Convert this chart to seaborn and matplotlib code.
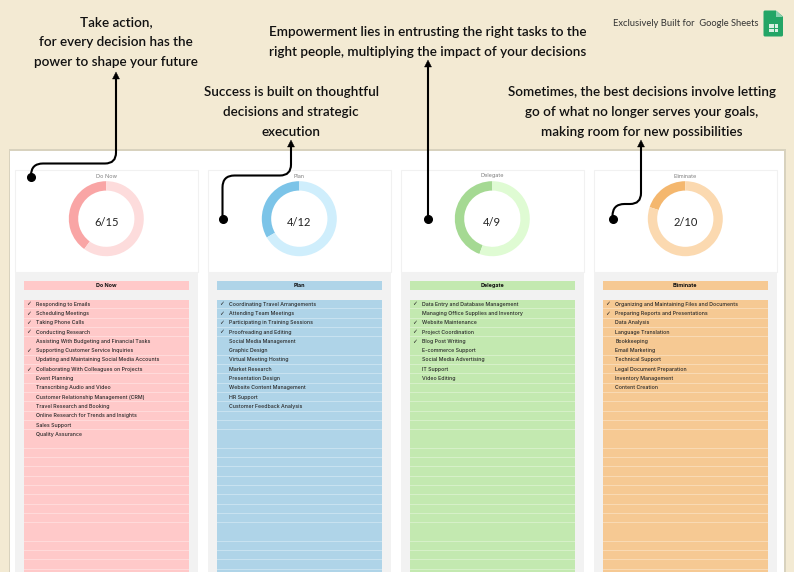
import matplotlib
matplotlib.use("Agg")
import matplotlib.pyplot as plt
from matplotlib.patches import Rectangle, FancyBboxPatch, Polygon, PathPatch
from matplotlib.path import Path
import seaborn as sns
import pandas as pd

sns.set_theme(style="white")
plt.rcParams['font.family'] = ['Inter', 'DejaVu Sans']

W, H = 794, 572
panel_names = ["Do Now", "Plan", "Delegate", "Eliminate"]
do_now = ["Responding to Emails", "Scheduling Meetings", "Taking Phone Calls", "Conducting Research",
          "Assisting With Budgeting and Financial Tasks", "Supporting Customer Service Inquiries",
          "Updating and Maintaining Social Media Accounts", "Collaborating With Colleagues on Projects",
          "Event Planning", "Transcribing Audio and Video", "Customer Relationship Management (CRM)",
          "Travel Research and Booking", "Online Research for Trends and Insights", "Sales Support",
          "Quality Assurance"]
plan = ["Coordinating Travel Arrangements", "Attending Team Meetings", "Participating in Training Sessions",
        "Proofreading and Editing", "Social Media Management", "Graphic Design", "Virtual Meeting Hosting",
        "Market Research", "Presentation Design", "Website Content Management", "HR Support",
        "Customer Feedback Analysis"]
delegate = ["Data Entry and Database Management", "Managing Office Supplies and Inventory", "Website Maintenance",
            "Project Coordination", "Blog Post Writing", "E-commerce Support", "Social Media Advertising",
            "IT Support", "Video Editing"]
eliminate = ["Organizing and Maintaining Files and Documents", "Preparing Reports and Presentations",
             "Data Analysis", "Language Translation", "Bookkeeping", "Email Marketing", "Technical Support",
             "Legal Document Preparation", "Inventory Management", "Content Creation"]
task_lists = [do_now, plan, delegate, eliminate]
done_do_now = [0, 1, 2, 3, 5, 7]
done_plan = [0, 1, 2, 3]
done_delegate = [0, 2, 3, 4]
done_eliminate = [0, 1]
done_lists = [done_do_now, done_plan, done_delegate, done_eliminate]
totals = [15, 12, 9, 10]
completed = [6, 4, 4, 2]
row_colors = ["#FFC9C9", "#AFD4E8", "#C3E9B0", "#F6C993"]
gap_colors = ["#FFDADA", "#C8E2F0", "#D6F0C8", "#F9DAB4"]
ring_dark = ["#F9A5A5", "#7CC4E8", "#A5D993", "#F4B76E"]
ring_light = ["#FDDCDC", "#CFEEFC", "#DFFBD3", "#FBD9B0"]
quotes = [("Take action,\nfor every decision has the\npower to shape your future", 116, 42),
          ("Success is built on thoughtful\ndecisions and strategic\nexecution", 291, 112),
          ("Empowerment lies in entrusting the right tasks to the\nright people, multiplying the impact of your decisions", 428, 42),
          ("Sometimes, the best decisions involve letting\ngo of what no longer serves your goals,\nmaking room for new possibilities", 642, 112)]

fig = plt.figure(figsize=(W / 100, H / 100), dpi=100, facecolor="#F3EAD3")
bg = fig.add_axes([0, 0, 1, 1], zorder=0)
bg.set_xlim(0, W)
bg.set_ylim(H, 0)
bg.axis("off")

bg.add_patch(Rectangle((9, 149), 776.5, 430, fc="#D8D2BE", ec="none"))
bg.add_patch(Rectangle((10, 150.5), 774, 430, fc="white", ec="none"))

col_x = [15, 208, 401, 594]
col_w = 183
for i, x in enumerate(col_x):
    bg.add_patch(Rectangle((x, 169.5), col_w, 102.5, fc="white", ec="#F1F1F1", lw=0.8))
    bg.add_patch(Rectangle((x, 272), col_w, 310, fc="#F2F2F2", ec="none"))
    bg.add_patch(Rectangle((x + 9, 281), 164.5, 9.3, fc=row_colors[i], ec="none"))
    bg.text(x + 91.3, 285.8, panel_names[i], fontsize=3.9, fontweight="bold", color="#111111",
            ha="center", va="center")
    bg.text(x + 91.3, 176, panel_names[i], fontsize=4.0, color="#808080", ha="center", va="center")

    # donut
    cx, cy, r = x + 91.3, 218.7, 37.5
    d = fig.add_axes([(cx - r) / W, 1 - (cy + r) / H, 2 * r / W, 2 * r / H], zorder=2)
    d.pie([completed[i], totals[i] - completed[i]], colors=[ring_dark[i], ring_light[i]], startangle=90,
          counterclock=True, radius=1, wedgeprops=dict(width=0.25, linewidth=0))
    d.set_xlim(-1, 1)
    d.set_ylim(-1, 1)
    d.patch.set_alpha(0)
    d.text(0, -0.09, f"{completed[i]}/{totals[i]}", fontsize=8.0, color="#222222",
           ha="center", va="center", family=["Lato"])

    # task rows
    y0 = 299.5
    row_h = 9.3
    n_rows = (H - y0) / row_h
    rows = list(range(30))
    tab = pd.DataFrame({"row": rows, "v": [1] * 30})
    a = fig.add_axes([(x + 9) / W, 0, 164.5 / W, (H - y0) / H], zorder=2)
    sns.barplot(data=tab, x="v", y="row", orient="h", color=row_colors[i], width=0.9, saturation=1,
                ax=a, order=rows, linewidth=0)
    a.set_xlim(0, 1)
    a.set_ylim(n_rows - 0.5, -0.5)
    a.set_axis_off()
    bg.add_patch(Rectangle((x + 9, y0), 164.5, H - y0, fc=gap_colors[i], ec="none", zorder=3))
    a.patch.set_alpha(0)
    for j, t in enumerate(task_lists[i]):
        a.text(12.2 / 164.5, j, t, fontsize=3.78, fontweight="medium", color="#2a2a2a", ha="left", va="center")
        if j in done_lists[i]:
            a.text(5 / 164.5, j, "\u2713", fontsize=4.2, color="#222222", ha="center", va="center",
                   family=["DejaVu Sans"])

# quotes
for txt, qx, qy in quotes:
    bg.text(qx, qy, txt, fontsize=9.7, color="#111111", ha="center", va="center", family=["Lato"],
            fontweight="semibold", linespacing=1.8, zorder=5)

top = fig.add_axes([0, 0, 1, 1], zorder=6)
top.set_xlim(0, W)
top.set_ylim(H, 0)
top.axis("off")
top.patch.set_alpha(0)

connectors = [
    [(31, 176.5), (31, 163.5), (116, 163.5), (116, 78)],
    [(222.5, 219), (222.5, 175.5), (291, 175.5), (291, 146)],
    [(428, 219), (428, 66)],
    [(612.5, 219), (612.5, 204), (641, 204), (641, 146)],
]
for pts in connectors:
    if len(pts) == 2:
        verts, codes = pts, [Path.MOVETO, Path.LINETO]
    else:
        (x0, y0), (x1, y1), (x2, y2), (x3, y3) = pts
        rad = min(12, abs(y1 - y0))
        verts = [(x0, y0), (x0, y1 + rad), (x0, y1), (x0 + rad, y1), (x2 - 11, y1), (x2, y1), (x2, y1 - 11), (x3, y3)]
        codes = [Path.MOVETO, Path.LINETO, Path.CURVE3, Path.CURVE3, Path.LINETO, Path.CURVE3, Path.CURVE3, Path.LINETO]
    top.add_patch(PathPatch(Path(verts, codes), fc="none", ec="black", lw=1.5, capstyle="round"))
    top.plot(*pts[0], "o", color="black", ms=5.5)
    ax_, ay_ = pts[-1]
    top.add_patch(Polygon([(ax_ - 3.5, ay_ + 1), (ax_ + 3.5, ay_ + 1), (ax_, ay_ - 6)], fc="black", ec="black", lw=0.3))

# header badge
top.text(613, 24, "Exclusively Built for  Google Sheets", fontsize=6.75, color="#333333", ha="left", va="center",
         family=["Lato"])
top.add_patch(FancyBboxPatch((763.5, 10.5), 19.5, 26, boxstyle="round,pad=0,rounding_size=1.5", fc="#23A566", ec="none"))
top.add_patch(Polygon([(776, 10.5), (783, 17), (776, 17)], fc="#8ED1B1", ec="none"))
top.add_patch(Polygon([(776, 10.5), (783.5, 17), (783.5, 10), (776, 10)], fc="#F3EAD3", ec="none"))
top.add_patch(Rectangle((769, 23.5), 9, 8, fc="#D9F0E3", ec="none"))
top.plot([769, 778], [27.5, 27.5], color="#23A566", lw=0.7)
top.plot([773.5, 773.5], [23.5, 31.5], color="#23A566", lw=0.7)

fig.savefig("out.png", dpi=100, facecolor=fig.get_facecolor())
